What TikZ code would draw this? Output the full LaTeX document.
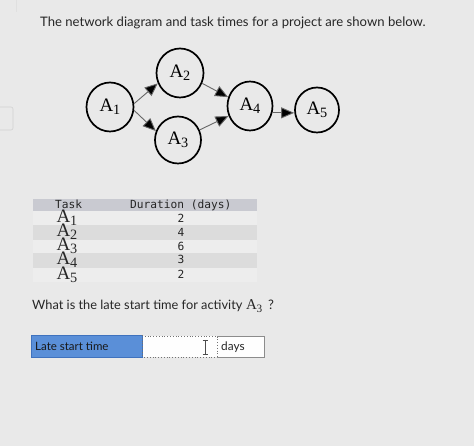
\documentclass[tikz,border=0pt]{standalone}
\usepackage{fontspec}
\usetikzlibrary{arrows.meta,shapes.geometric}
\newfontfamily\sansf{Lato}
\newfontfamily\serf{Liberation Serif}
\newfontfamily\monof{DejaVu Sans Mono}
\definecolor{bg}{HTML}{E9E9E9}
\definecolor{hdr}{HTML}{C9CAD1}
\definecolor{band}{HTML}{DCDCDC}
\definecolor{lite}{HTML}{EDEDED}
\definecolor{blueL}{HTML}{5A8FD8}
\definecolor{blueD}{HTML}{3F72BE}
\newcommand\Asub[1]{A\kern-0.3pt\raisebox{-0.33ex}{\scalebox{0.75}{#1}}}
\tikzset{
  act/.style={ellipse,draw=black,line width=1.7pt,fill=bg,inner sep=0pt,minimum width=47pt,minimum height=49pt,font=\serf\fontsize{19}{19}\selectfont},
  link/.style={draw=black!60,line width=0.9pt,-{Triangle[length=13pt,width=11pt,fill=black]}},
  txt/.style={inner sep=0pt,anchor=base west,text=black!85,font=\sansf\fontsize{13.1}{14}\selectfont},
  mono/.style={inner sep=0pt,anchor=base,text=black!85,font=\monof\fontsize{11.2}{12}\selectfont},
  tabA/.style={inner sep=0pt,anchor=base,text=black!85,font=\serf\fontsize{19}{19}\selectfont},
}
\begin{document}
\begin{tikzpicture}[x=1pt,y=-1pt]
\useasboundingbox (0,0) rectangle (474,446);
\fill[bg] (0,0) rectangle (474,446);
% faint page artefacts at the left
\draw[black!18,line width=0.6pt,rounded corners=2pt] (-5,107) -- (13,107) -- (13,130) -- (-5,130);
\draw[black!12,line width=0.6pt] (16,0) -- (16,12);
% title
\node[txt] (title) at (40,27) {The network diagram and task times for a project are shown below.};
% network
\node[act] (A1) at (110,107) {\Asub{1}};
\node[act] (A2) at (180,73) {\Asub{2}};
\node[act,minimum width=46pt,minimum height=47pt] (A3) at (178,140) {\Asub{3}};
\node[act,minimum width=45pt] (A4) at (250,106) {\Asub{4}};
\node[act,minimum width=44pt,minimum height=45pt] (A5) at (317,110) {\Asub{5}};
\draw[link] (A1.8) -- (A2.205);
\draw[link] (A1.-8) -- (A3.158);
\draw[link] (A2.-25) -- (A4.158);
\draw[link] (A3.25) -- (A4.205);
\coordinate (m45) at (A4.-17);
\draw[link] (m45) -- (m45 -| A5.west);
% table
\fill[hdr] (33,199) rectangle (257,211);
\fill[lite] (33,211) rectangle (257,225);
\fill[band] (33,225) rectangle (257,240);
\fill[lite] (33,240) rectangle (257,253);
\fill[band] (33,253) rectangle (257,268);
\fill[lite] (33,268) rectangle (257,282);
\node[mono,anchor=base west] (th1) at (55,209) {Task};
\node[mono,anchor=base west] (th2) at (130,209) {Duration (days)};
\node[tabA] (t1) at (67,223) {\Asub{1}};
\node[tabA] (t2) at (67,237) {\Asub{2}};
\node[tabA] (t3) at (67,251) {\Asub{3}};
\node[tabA] (t4) at (67,265) {\Asub{4}};
\node[tabA] (t5) at (67,280) {\Asub{5}};
\node[mono] (d1) at (181,223) {2};
\node[mono] (d2) at (181,237) {4};
\node[mono] (d3) at (181,251) {6};
\node[mono] (d4) at (181,264) {3};
\node[mono] (d5) at (181,279) {2};
% question
\node[txt,font=\sansf\fontsize{12.8}{14}\selectfont] (q) at (32,310) {What is the late start time for activity};
\node[tabA,anchor=base west,font=\serf\fontsize{15}{15}\selectfont] (qa) at (246,310) {\Asub{3}};
\node[txt] (qm) at (268,310) {?};
% answer box
\fill[white!96!bg] (142,336) rectangle (264,357);
\draw[black!45,line width=0.6pt] (217,336) -- (264,336) -- (264,357) -- (217,357);
\draw[black!55,line width=0.8pt,dotted] (142,336) -- (217,336) -- (217,357) -- (142,357);
\filldraw[fill=blueL,draw=blueD,line width=0.6pt] (31,335) rectangle (142,357);
\draw[black!55,line width=0.8pt,dotted] (142,335) -- (142,357);
\node[inner sep=0pt,anchor=base west,text=black!90,font=\sansf\fontsize{11.5}{12}\selectfont] (lab) at (35,351) {Late start time};
\node[inner sep=0pt,anchor=base west,text=black!85,font=\sansf\fontsize{11.8}{12}\selectfont] (days) at (221,351) {days};
% I-beam cursor
\draw[black!70,line width=0.8pt] (205,340) -- (205,354) (202.5,340) -- (207.5,340) (202.5,354) -- (207.5,354);
\end{tikzpicture}
\end{document}
